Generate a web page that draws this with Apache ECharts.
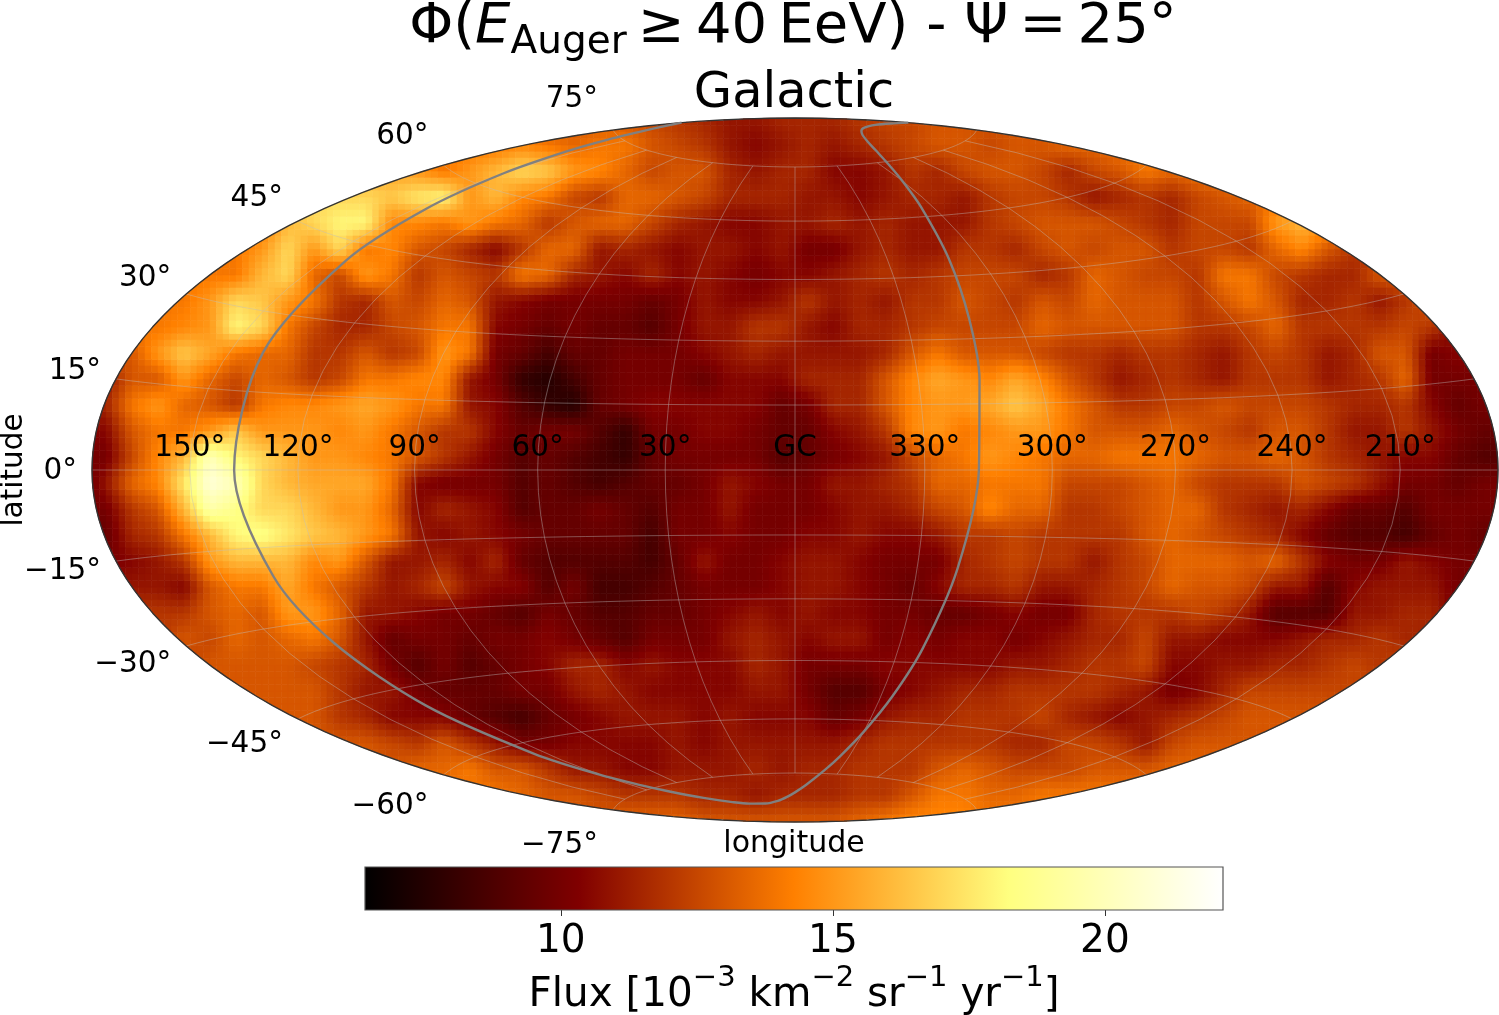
<!DOCTYPE html>
<html><head><meta charset="utf-8">
<style>html,body{margin:0;padding:0;background:#fff}#c{width:1499px;height:1015px}</style>
<script src="https://cdn.jsdelivr.net/npm/echarts@6/dist/echarts.min.js"></script>
</head><body><div id="c"></div>
<script>
// Flux, one row per 26 px band of the map, top to bottom; each row is centred on GC.
const fluxRows = [
[13,13,12.5,12,11.5,11,11,11.5,11.5,11.5,12,12.5,12.5,13,13,13],
[14,14,14.5,14,13.5,14,14,13,12.5,12,11,10.5,11,11.5,11,11.5,12,12.5,13,13,12.5,13,13,13.5,13.5,14],
[15.5,15,14,15,16,17,16.5,15,14.5,13.5,12.5,13,13,11.5,11,11.5,11.5,10.5,10.5,11,12,11.5,12.5,13,13,12.5,11.5,12.5,13,14,13.5,14],
[17,17,17,16.5,17.5,18,15,16,14.5,14,12.5,12,13.5,13.5,13,12.5,11.5,11.5,11.5,11,11,10.5,11,11.5,11.5,11,12,12.5,12.5,12,11,11.5,12,11.5,12.5,13,13.5,14],
[14,16,17,18,18,14.5,14.5,14,15,14,13.5,12,13,13.5,13.5,12.5,11.5,11,10.5,10.5,11,11,11.5,11,11.5,11,11,11,12,12.5,13,13,13,12.5,12,11.5,12.5,12.5,12.5,15,16,15],
[14,15,17,15,17,14,14.5,13,12.5,11.5,10.5,12,13.5,13.5,11,11.5,11,10.5,11,11,10.5,11,10,10,11,11.5,11,11,12,12,11.5,12.5,13,12.5,13,13,12,12.5,12.5,12,13.5,14.5,13,12],
[14,14,14,16,17,13.5,12.5,15,14,12,13,12.5,12,14,13.5,11.5,11,10.5,11.5,10.5,11,10.5,10,10.5,10.5,11,11.5,12,11.5,12,12.5,12.5,12.5,11.5,12,13.5,13,12.5,12.5,12,14,14,12.5,12,11.5,11.5,13,13],
[14,14,15,17,16.5,15,14,12,11.5,13,12.5,13.5,13,11,10.5,10,10,10,10,9.5,10,11,10.5,10.5,11,12,11,11.5,11,12,12,13,12.5,12,13,12.5,13.5,13,13,13,12,13,14,13,11.5,11.5,12,11,12,13],
[14,14,14.5,15,18,17,14,12.5,11.5,11.5,12.5,13,14,14,10.5,10,9.5,10,9.5,9.5,9,10,11,11,12,12,11,10.5,11.5,11.5,12,12.5,12.5,12.5,12.5,13.5,13,13,13,13,13,12,12,12.5,13.5,12,12,12,12,12.5,12,10.5],
[13,15,16.5,15.5,14,13.5,13.5,12,12,13,12,12.5,15,14,10,9.5,8.5,9.5,9.5,10,10,10,10.5,11,11.5,11,11,11,11,11.5,13,14,13,13,13,12.5,12,12,11.5,12,12,11.5,11,12,12.5,12,11,11.5,13,13,10,10.5],
[11,13,13,15,13.5,12.5,13.5,13,12,12.5,14,14,14.5,14.5,11,10,8,7.5,8.5,9.5,10,10,10,9.5,10.5,10.5,10.5,11.5,11.5,11.5,13,14.5,15.5,15,14.5,15.5,14.5,13,12,11,11.5,12,11.5,11,12,12,12,11,11.5,12,13.5,10,10,10],
[11.5,14,15,13.5,13,12,14,14.5,14.5,15,15.5,15,14,14,11,10.5,9,8,7.5,9.5,10,10.5,10.5,10.5,10.5,10.5,9.5,10,11.5,11.5,13,14.5,15,15,15.5,16.5,15.5,14,13,12,12,12.5,12.5,13,12.5,12.5,12.5,12,11.5,11.5,12,10.5,9.5,10],
[10.5,13,14,14,15,16.5,15,15,15,14.5,15,14,13,12,12,10.5,9.5,10,10,9,8,10,10,10.5,10.5,10,9.5,9.5,10.5,11,12,14.5,15,14,14.5,15,15,14,13,13,13,13.5,13,12.5,12,13,13,12,11,11,12,11,10,9.5],
[10,10,12.5,14.5,16,20,18,17,16,15,15,14.5,14,13,12,11,10,9,9.5,9,8.5,8,9.5,10,10,10,10,9,9.5,10,10.5,11,12.5,13.5,14,15,14.5,14,13.5,13.5,14,14,14,13.5,13,13,13.5,13,12,11.5,11,10.5,10.5,9.5,9,9],
[9,11,13.5,14.5,17.5,21,20,17,16,15.5,15.5,15.5,14,10.5,10,10,10,9,9.5,9,8.5,9,9.5,9.5,10,11,10.5,10,10,11,11,11.5,12,13.5,13.5,14,14,14,12.5,12.5,12.5,13,13.5,12.5,12,12,12,13,12.5,12,11,10,10,9.5,10,10],
[10,12,13,16,19.5,18.5,17,17,16,15,15,13.5,10.5,11.5,11,10.5,9,9.5,9.5,10,9.5,9,10,10,11,10,10,10,10.5,11,11,11.5,12.5,13,14.5,13.5,13.5,12,12,12.5,13,13.5,13.5,12,11.5,11,11.5,10.5,9.5,9.5,9,10,10,10],
[9.5,11.5,12,14,16,18,18.5,17.5,16.5,16,15,14,11,10.5,11,10.5,10,9.5,9.5,9.5,9.5,8.5,10,10,10.5,10,10,10.5,10.5,11,10.5,10.5,11,12,12,12.5,12,12,12,12,13,13.5,13,12.5,12,11.5,10.5,9.5,9,9,8.5,9.5,10,9.5],
[10,10.5,11,12,15,16,16,16,14.5,15,13,11,11,11.5,10.5,11.5,9.5,9,9,9,9,8.5,9.5,11,10,10,10.5,11,11,10.5,10,10,10,11.5,12,12.5,12,12,11,12,12.5,13.5,13.5,13.5,13,13.5,12,10.5,10,10,11,10.5,10,10],
[11,11,10.5,13,14,14,15.5,14,13,12,11,11.5,12.5,11,10.5,10.5,9,10,8.5,8.5,9,9.5,10,10,10,10.5,11,11,10.5,10,9.5,10.5,11.5,11.5,12,11,11,11.5,12,12.5,13.5,13,13,12.5,11,11,9,10.5,11,11,11,10],
[12,12,12,13,13.5,13,15,15,13.5,11,11,10.5,10,10,9.5,9,10,9.5,9,9,9.5,9.5,10,10.5,11,10.5,11,10.5,10.5,10,10,9.5,9.5,10,10.5,10,10,11.5,12,12,12,12.5,12,11,9,9,9,11,11,11.5,11.5,10],
[12,13,12.5,13.5,13,13.5,14,13,11,9.5,10,10,9.5,10,10,10.5,10,9.5,9,10,10,10,11,11.5,11,10.5,11,11,10,10.5,10,10.5,10.5,10,10.5,11,11.5,11.5,12.5,11,11,10.5,10.5,10.5,11,11.5,11.5,12,11.5,11.5],
[12,13,13,13,13,12.5,12,11.5,10,9,10,9,9.5,10,10.5,11.5,11.5,10.5,11,10.5,10.5,10.5,11.5,11,10,10,10,10.5,10.5,10.5,10.5,10.5,11,11,11.5,12,12,12.5,10.5,10.5,11,11,11.5,11.5,12,12.5,12,12.5],
[13,13,13,13,12,11,11,10,9.5,9.5,9.5,10,10,11,11.5,11,10.5,10.5,10.5,10.5,11,11,10,9,9,10,10.5,11,11.5,11.5,12,12,12,12,11.5,11,10,10.5,11.5,12.5,12.5,12.5,12.5,12.5],
[13,13,13,12,11.5,10.5,10.5,10.5,9.5,9,8.5,9.5,10,10.5,11,11,11,10.5,11,10.5,10.5,10.5,9.5,10,11,11.5,11.5,12,12,12,12.5,11.5,11,10.5,11,11.5,12,12.5,13,13,13,13],
[13,13,13,12.5,12,13,12,11,10,10,10.5,10.5,10.5,10.5,11,10.5,11,11,11,11,11,11.5,12,12,12,12,12,11.5,11.5,12.5,12.5,12,11,12.5,13,13,13,13],
[13,13.5,13.5,14,13,13,12,11,11,10.5,10.5,11,11,11,11.5,11,11.5,11.5,12,12,12,13,13.5,13,12.5,12.5,12.5,13,13,13,13.5,13.5],
[14,14,13.5,13,13,12.5,12,12,12,11.5,11.5,11,11.5,11.5,11.5,12,12,13,14,14,13.5,13.5,14,14,14,14],
[13,13.5,13.5,13.5,13,13,13,13,13,13,13.5,14,14.5,14.5,14.5,14]
];
// Colour bar
const colorbarMin = 6.4, colorbarMax = 22.17;
const colorbarTicks = [10, 15, 20];
const cmapColors = [[0,0,0],[128,0,0],[255,128,0],[255,255,128],[255,255,255]];
// Graticule and labels
const latTicks = [75,60,45,30,15,0,-15,-30,-45,-60,-75];
const latTickText = ['75°','60°','45°','30°','15°','0°','−15°','−30°','−45°','−60°','−75°'];
const latLabelY = [371,334,272,192,99,-1,-101,-194,-274,-336,-375];
const lonTicks = [150,120,90,60,30,0,-30,-60,-90,-120,-150];
const lonTickText = ['150°','120°','90°','60°','30°','GC','330°','300°','270°','240°','210°'];
// Grey line: longitude and latitude of its points, degrees
const curveLon = [-180,-170,-155,-133,-115,-100,-85,-75,-65,-60,-55,-50,-47,-45,-42.63,-40,-37,-34,-30,-25,-20,-10,0,10,25,47.37,70,85,100,110,115,120,125,130,133,135,137.37,140,143,146,150,155,160,170,180];
const curveLat = [80.72,82.07,83.17,83.68,83.37,82.51,80.67,78.31,73.78,69.65,62.66,49.2,34.5,20.5,0,-22.5,-41.5,-53.6,-63.1,-69.9,-73.95,-78.4,-80.72,-82.07,-83.17,-83.68,-83.16,-82.04,-79.66,-76.45,-73.78,-69.65,-62.66,-49.2,-34.5,-20.5,0,22.5,41.5,53.6,63.1,69.9,73.95,78.4,80.72];

const A = 703, B = 352, CELL = 26, SUB = 4;
const D = Math.PI / 180;
function hammer(lon, lat) {
  const p = lat * D, l = lon * D / 2, z = Math.sqrt(1 + Math.cos(p) * Math.cos(l));
  return [-A * Math.cos(p) * Math.sin(l) / z, B * Math.sin(p) / z];
}
function color(v) {
  const t = Math.max(0, Math.min(0.9999, (v - colorbarMin) / (colorbarMax - colorbarMin))) * 4;
  const i = Math.floor(t), f = t - i, a = cmapColors[i], b = cmapColors[i + 1];
  return 'rgb(' + [0,1,2].map(k => Math.round(a[k] + (b[k] - a[k]) * f)).join(',') + ')';
}
function cellValue(c, r) {
  const row = fluxRows[Math.max(0, Math.min(fluxRows.length - 1, r))], h = row.length / 2;
  return row[Math.max(0, Math.min(row.length - 1, c + h))];
}
function shade(x, y) {
  const u = x / CELL - 0.5, v = fluxRows.length / 2 - 0.5 - y / CELL;
  const c = Math.floor(u), r = Math.floor(v), t = u - c, s = v - r;
  return (cellValue(c, r) * (1 - t) + cellValue(c + 1, r) * t) * (1 - s) +
         (cellValue(c, r + 1) * (1 - t) + cellValue(c + 1, r + 1) * t) * s;
}
const cells = [];
fluxRows.forEach((row, r) => row.forEach((v, j) => {
  cells.push([(j - row.length / 2) * CELL, (fluxRows.length / 2 - 1 - r) * CELL, v]);
}));
function halfWidth(y) { const q = y / B; return q * q >= 1 ? 0 : A * Math.sqrt(1 - q * q); }
function renderCell(params, api) {
  const x0 = api.value(0), y0 = api.value(1), s = CELL / SUB, children = [];
  for (let i = 0; i < SUB; i++) for (let j = 0; j < SUB; j++) {
    const xa = x0 + i * s, xb = xa + s;
    const ya = Math.max(-B, y0 + j * s), yb = Math.min(B, y0 + (j + 1) * s);
    if (yb <= ya) continue;
    const far = Math.max(Math.abs(xa), Math.abs(xb));
    const n = far > Math.min(halfWidth(ya), halfWidth(yb)) ? 8 : 1;
    const left = [], right = [];
    for (let q = 0; q <= n; q++) {
      const y = ya + (yb - ya) * q / n, w = halfWidth(y);
      const l = Math.max(xa, -w), rr = Math.min(xb, w);
      if (rr > l) { left.push(api.coord([l, y])); right.unshift(api.coord([rr, y])); }
    }
    if (left.length < 2) continue;
    const col = color(shade(x0 + (i + 0.5) * s, y0 + (j + 0.5) * s));
    children.push({type:'polygon', shape:{points:left.concat(right)}, style:{fill:col, stroke:col, lineWidth:0.6}, silent:true});
  }
  return {type:'group', children};
}
function gridLine(points) {
  return {type:'line', xAxisIndex:0, yAxisIndex:0, data:points, showSymbol:false, silent:true, animation:false, z:5,
    lineStyle:{color:'rgba(190,190,190,0.42)', width:1}};
}
const steps = [];
for (let s = -180; s <= 180; s += 5) steps.push(s);
const latSteps = [];
for (let s = -75; s <= 75; s += 5) latSteps.push(s);
const edgeSteps = [];
for (let s = -90; s <= 90; s += 2) edgeSteps.push(s);
const font = '"DejaVu Sans"';
const lblBase = {fontFamily:font, fontSize:29.5, color:'#000', opacity:1};

const series = [
  {type:'custom', xAxisIndex:0, yAxisIndex:0, data:cells, renderItem:renderCell, animation:false, silent:true, progressive:0, z:2, encode:{x:0,y:1}},
  ...latTicks.map(b => gridLine(steps.map(l => hammer(l, b)))),
  ...lonTicks.map(l => gridLine(latSteps.map(b => hammer(l, b)))),
  {type:'line', xAxisIndex:0, yAxisIndex:0, data:edgeSteps.map(b => hammer(180, b)).concat(edgeSteps.slice().reverse().map(b => hammer(-180, b))),
    showSymbol:false, silent:true, animation:false, z:6, lineStyle:{color:'#333', width:1.4}},
  {type:'line', xAxisIndex:0, yAxisIndex:0, data:curveLon.map((l, i) => hammer(l, curveLat[i])), showSymbol:false, silent:true, animation:false, z:7, smooth:0.3,
    lineStyle:{color:'#808080', width:2.4}},
  {type:'scatter', xAxisIndex:0, yAxisIndex:0, symbolSize:0, silent:true, animation:false, clip:false, z:8, itemStyle:{opacity:1},
    data:latTicks.map((b, i) => ({value:[hammer(180, b)[0] - 15, latLabelY[i]], name:latTickText[i]})),
    label:{show:true, position:'left', distance:0, formatter:p => p.name, ...lblBase}},
  {type:'scatter', xAxisIndex:0, yAxisIndex:0, symbolSize:0, silent:true, animation:false, clip:false, z:8, itemStyle:{opacity:1},
    data:lonTicks.map((l, i) => ({value:[hammer(l, 0)[0], 22], name:lonTickText[i]})),
    label:{show:true, position:'inside', formatter:p => p.name, ...lblBase}},
  {type:'custom', xAxisIndex:1, yAxisIndex:1, data:[[colorbarMin, colorbarMax]], animation:false, silent:true, z:3, encode:{x:[0,1]},
    renderItem:(p, api) => {
      const a = api.coord([api.value(0), 1]), b = api.coord([api.value(1), 0]);
      return {type:'rect', shape:{x:a[0], y:a[1], width:b[0] - a[0], height:b[1] - a[1]},
        style:{stroke:'#555', lineWidth:1.2, fill:new echarts.graphic.LinearGradient(0,0,1,0,
          cmapColors.map((c, i) => ({offset:i / 4, color:'rgb(' + c.join(',') + ')'})))}};
    }}
];
const chart = echarts.init(document.getElementById('c'), null, {renderer:'canvas'});
chart.setOption({
  animation:false,
  backgroundColor:'#fff',
  grid:[{left:0, top:0, width:1499, height:1015},{left:365, top:867, width:858, height:43}],
  xAxis:[
    {type:'value', gridIndex:0, min:-795, max:704, show:false},
    {type:'value', gridIndex:1, min:colorbarMin, max:colorbarMax, splitLine:{show:false},
      axisLine:{show:false},
      axisTick:{show:true, length:6, lineStyle:{color:'#333', width:1}, customValues:colorbarTicks},
      axisLabel:{show:true, margin:12, fontFamily:font, fontSize:39, color:'#000', customValues:colorbarTicks}}
  ],
  yAxis:[
    {type:'value', gridIndex:0, min:-545, max:470, show:false},
    {type:'value', gridIndex:1, min:0, max:1, show:false}
  ],
  graphic:[
    {type:'text', x:793, y:27, z:20, style:{
      text:'{n|Φ(}{i|E}{s|Auger}{n|\u2009≥\u200940\u2009EeV) - Ψ\u2009=\u200925°}', align:'center', verticalAlign:'middle', fill:'#000',
      rich:{
        n:{fontFamily:font, fontSize:56, lineHeight:70, verticalAlign:'middle', fill:'#000'},
        i:{fontFamily:font, fontSize:56, fontStyle:'italic', lineHeight:70, verticalAlign:'middle', fill:'#000'},
        s:{fontFamily:font, fontSize:39, lineHeight:70, verticalAlign:'bottom', fill:'#000'}
      }}},
    {type:'text', x:794, y:94, z:20, style:{text:'Galactic', align:'center', verticalAlign:'middle', fontFamily:font, fontSize:49.5, fill:'#000'}},
    {type:'text', x:794, y:844, z:20, style:{text:'longitude', align:'center', verticalAlign:'middle', fontFamily:font, fontSize:30, fill:'#000'}},
    {type:'text', x:14, y:470, rotation:Math.PI / 2, z:20, style:{text:'latitude', align:'center', verticalAlign:'middle', fontFamily:font, fontSize:29.5, fill:'#000'}},
    {type:'text', x:794, y:990, z:20, style:{
      text:'{n|Flux [10}{s|−3}{n| km}{s|−2}{n| sr}{s|−1}{n| yr}{s|−1}{n|]}', align:'center', verticalAlign:'middle', fill:'#000',
      rich:{
        n:{fontFamily:font, fontSize:40.5, lineHeight:52, verticalAlign:'bottom', fill:'#000'},
        s:{fontFamily:font, fontSize:29, lineHeight:52, verticalAlign:'top', fill:'#000'}
      }}}
  ],
  series
});
</script></body></html>
